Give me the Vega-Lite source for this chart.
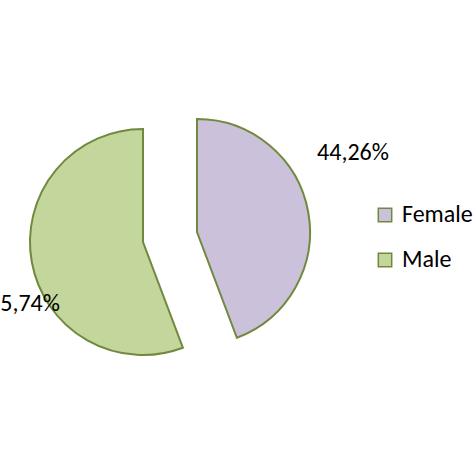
{
  "$schema": "https://vega.github.io/schema/vega-lite/v6.json",
  "width": 340,
  "height": 474,
  "autosize": {"type": "none"},
  "padding": {"left": 0, "top": 0, "right": 134, "bottom": 0},
  "background": "white",
  "data": {
    "values": [
      {"sex": "Female", "pct": 44.26, "label": "44,26%"},
      {"sex": "Male", "pct": 55.74, "label": "55,74%"}
    ]
  },
  "transform": [
    {"stack": "pct", "groupby": [], "as": ["t0", "t1"], "sort": [{"field": "sex", "order": "ascending"}]}
  ],
  "layer": [
    {
      "encoding": {
        "theta": {"field": "t0", "type": "quantitative", "scale": {"domain": [0, 100]}},
        "theta2": {"field": "t1"},
        "color": {
          "field": "sex",
          "type": "nominal",
          "scale": {"domain": ["Female", "Male"], "range": ["#CCC1DA", "#C3D69B"]},
          "legend": {
            "title": null,
            "orient": "none",
            "legendX": 373,
            "legendY": 203,
            "padding": 0,
            "symbolType": "square",
            "symbolSize": 180,
            "symbolStrokeColor": "#71893F",
            "symbolStrokeWidth": 1.5,
            "labelFont": "Carlito, Lato",
            "labelFontSize": 24,
            "labelColor": "black",
            "labelOffset": 5,
            "rowPadding": 21
          }
        }
      },
      "layer": [
        {
          "transform": [{"filter": "datum.sex === 'Female'"}],
          "mark": {"type": "arc", "outerRadius": 113, "xOffset": 27, "yOffset": -5, "stroke": "#71893F", "strokeWidth": 2}
        },
        {
          "transform": [{"filter": "datum.sex === 'Male'"}],
          "mark": {"type": "arc", "outerRadius": 113, "xOffset": -27, "yOffset": 5, "stroke": "#71893F", "strokeWidth": 2}
        }
      ]
    },
    {
      "transform": [{"filter": "datum.sex === 'Female'"}],
      "mark": {"type": "text", "dx": 183, "dy": -84, "align": "center", "baseline": "middle", "font": "Carlito, Lato", "fontSize": 24, "color": "black"},
      "encoding": {"text": {"field": "label"}}
    },
    {
      "transform": [{"filter": "datum.sex === 'Male'"}],
      "mark": {"type": "text", "dx": -146, "dy": 67, "align": "center", "baseline": "middle", "font": "Carlito, Lato", "fontSize": 24, "color": "black"},
      "encoding": {"text": {"field": "label"}}
    }
  ]
}
